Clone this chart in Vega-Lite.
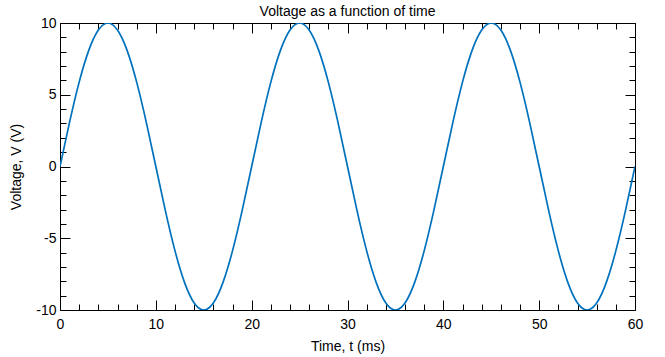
{
  "$schema": "https://vega.github.io/schema/vega-lite/v6.json",
  "autosize": "none",
  "width": 575,
  "height": 287,
  "padding": {"left": 60, "top": 23, "right": 30, "bottom": 47},
  "background": "white",
  "title": {"text": "Voltage as a function of time", "font": "Liberation Sans", "fontSize": 14, "fontWeight": "normal", "color": "black", "offset": -3},
  "config": {
    "view": {"stroke": null},
    "axis": {"grid": false, "domainColor": "black", "domainWidth": 1, "tickColor": "black", "tickWidth": 1, "labelFont": "Liberation Sans", "labelFontSize": 14, "labelColor": "black", "titleFont": "Liberation Sans", "titleFontSize": 14, "titleFontWeight": "normal", "titleColor": "black", "labelOverlap": false, "labelFlush": false}
  },
  "data": {"values": [
    {"t": 0, "v": 0}, {"t": 1, "v": 3.090}, {"t": 2, "v": 5.878}, {"t": 3, "v": 8.090}, {"t": 4, "v": 9.511},
    {"t": 5, "v": 10}, {"t": 6, "v": 9.511}, {"t": 7, "v": 8.090}, {"t": 8, "v": 5.878}, {"t": 9, "v": 3.090},
    {"t": 10, "v": 0}, {"t": 11, "v": -3.090}, {"t": 12, "v": -5.878}, {"t": 13, "v": -8.090}, {"t": 14, "v": -9.511},
    {"t": 15, "v": -10}, {"t": 16, "v": -9.511}, {"t": 17, "v": -8.090}, {"t": 18, "v": -5.878}, {"t": 19, "v": -3.090},
    {"t": 20, "v": 0}, {"t": 21, "v": 3.090}, {"t": 22, "v": 5.878}, {"t": 23, "v": 8.090}, {"t": 24, "v": 9.511},
    {"t": 25, "v": 10}, {"t": 26, "v": 9.511}, {"t": 27, "v": 8.090}, {"t": 28, "v": 5.878}, {"t": 29, "v": 3.090},
    {"t": 30, "v": 0}, {"t": 31, "v": -3.090}, {"t": 32, "v": -5.878}, {"t": 33, "v": -8.090}, {"t": 34, "v": -9.511},
    {"t": 35, "v": -10}, {"t": 36, "v": -9.511}, {"t": 37, "v": -8.090}, {"t": 38, "v": -5.878}, {"t": 39, "v": -3.090},
    {"t": 40, "v": 0}, {"t": 41, "v": 3.090}, {"t": 42, "v": 5.878}, {"t": 43, "v": 8.090}, {"t": 44, "v": 9.511},
    {"t": 45, "v": 10}, {"t": 46, "v": 9.511}, {"t": 47, "v": 8.090}, {"t": 48, "v": 5.878}, {"t": 49, "v": 3.090},
    {"t": 50, "v": 0}, {"t": 51, "v": -3.090}, {"t": 52, "v": -5.878}, {"t": 53, "v": -8.090}, {"t": 54, "v": -9.511},
    {"t": 55, "v": -10}, {"t": 56, "v": -9.511}, {"t": 57, "v": -8.090}, {"t": 58, "v": -5.878}, {"t": 59, "v": -3.090},
    {"t": 60, "v": 0}
  ]},
  "layer": [
    {
      "mark": {"type": "line", "color": "#0072BD", "strokeWidth": 1.7, "interpolate": "natural", "clip": true},
      "encoding": {
        "x": {"field": "t", "type": "quantitative", "scale": {"domain": [0, 60], "nice": false, "zero": false},
          "axis": {"orient": "bottom", "title": "Time, t (ms)", "titlePadding": 4,
            "values": [0,2,4,6,8,10,12,14,16,18,20,22,24,26,28,30,32,34,36,38,40,42,44,46,48,50,52,54,56,58,60],
            "tickSize": {"condition": {"test": "datum.value % 10 === 0", "value": -10}, "value": -6},
            "labelExpr": "datum.value % 10 === 0 ? '' + datum.value : ''", "labelPadding": 17}},
        "y": {"field": "v", "type": "quantitative", "scale": {"domain": [-10, 10], "nice": false, "zero": false},
          "axis": {"orient": "left", "title": "Voltage, V (V)", "titlePadding": 12,
            "values": [-10,-9,-8,-7,-6,-5,-4,-3,-2,-1,0,1,2,3,4,5,6,7,8,9,10],
            "tickSize": {"condition": {"test": "datum.value % 5 === 0", "value": -10}, "value": -6},
            "labelExpr": "datum.value % 5 === 0 ? '' + datum.value : ''", "labelPadding": 14}}
      }
    },
    {
      "mark": {"type": "line", "opacity": 0, "clip": true},
      "encoding": {
        "x": {"field": "t", "type": "quantitative",
          "axis": {"orient": "top", "title": null, "labels": false,
            "values": [0,2,4,6,8,10,12,14,16,18,20,22,24,26,28,30,32,34,36,38,40,42,44,46,48,50,52,54,56,58,60],
            "tickSize": {"condition": {"test": "datum.value % 10 === 0", "value": -10}, "value": -6}}},
        "y": {"field": "v", "type": "quantitative",
          "axis": {"orient": "right", "title": null, "labels": false,
            "values": [-10,-9,-8,-7,-6,-5,-4,-3,-2,-1,0,1,2,3,4,5,6,7,8,9,10],
            "tickSize": {"condition": {"test": "datum.value % 5 === 0", "value": -10}, "value": -6}}}
      }
    }
  ],
  "resolve": {"axis": {"x": "independent", "y": "independent"}}
}
